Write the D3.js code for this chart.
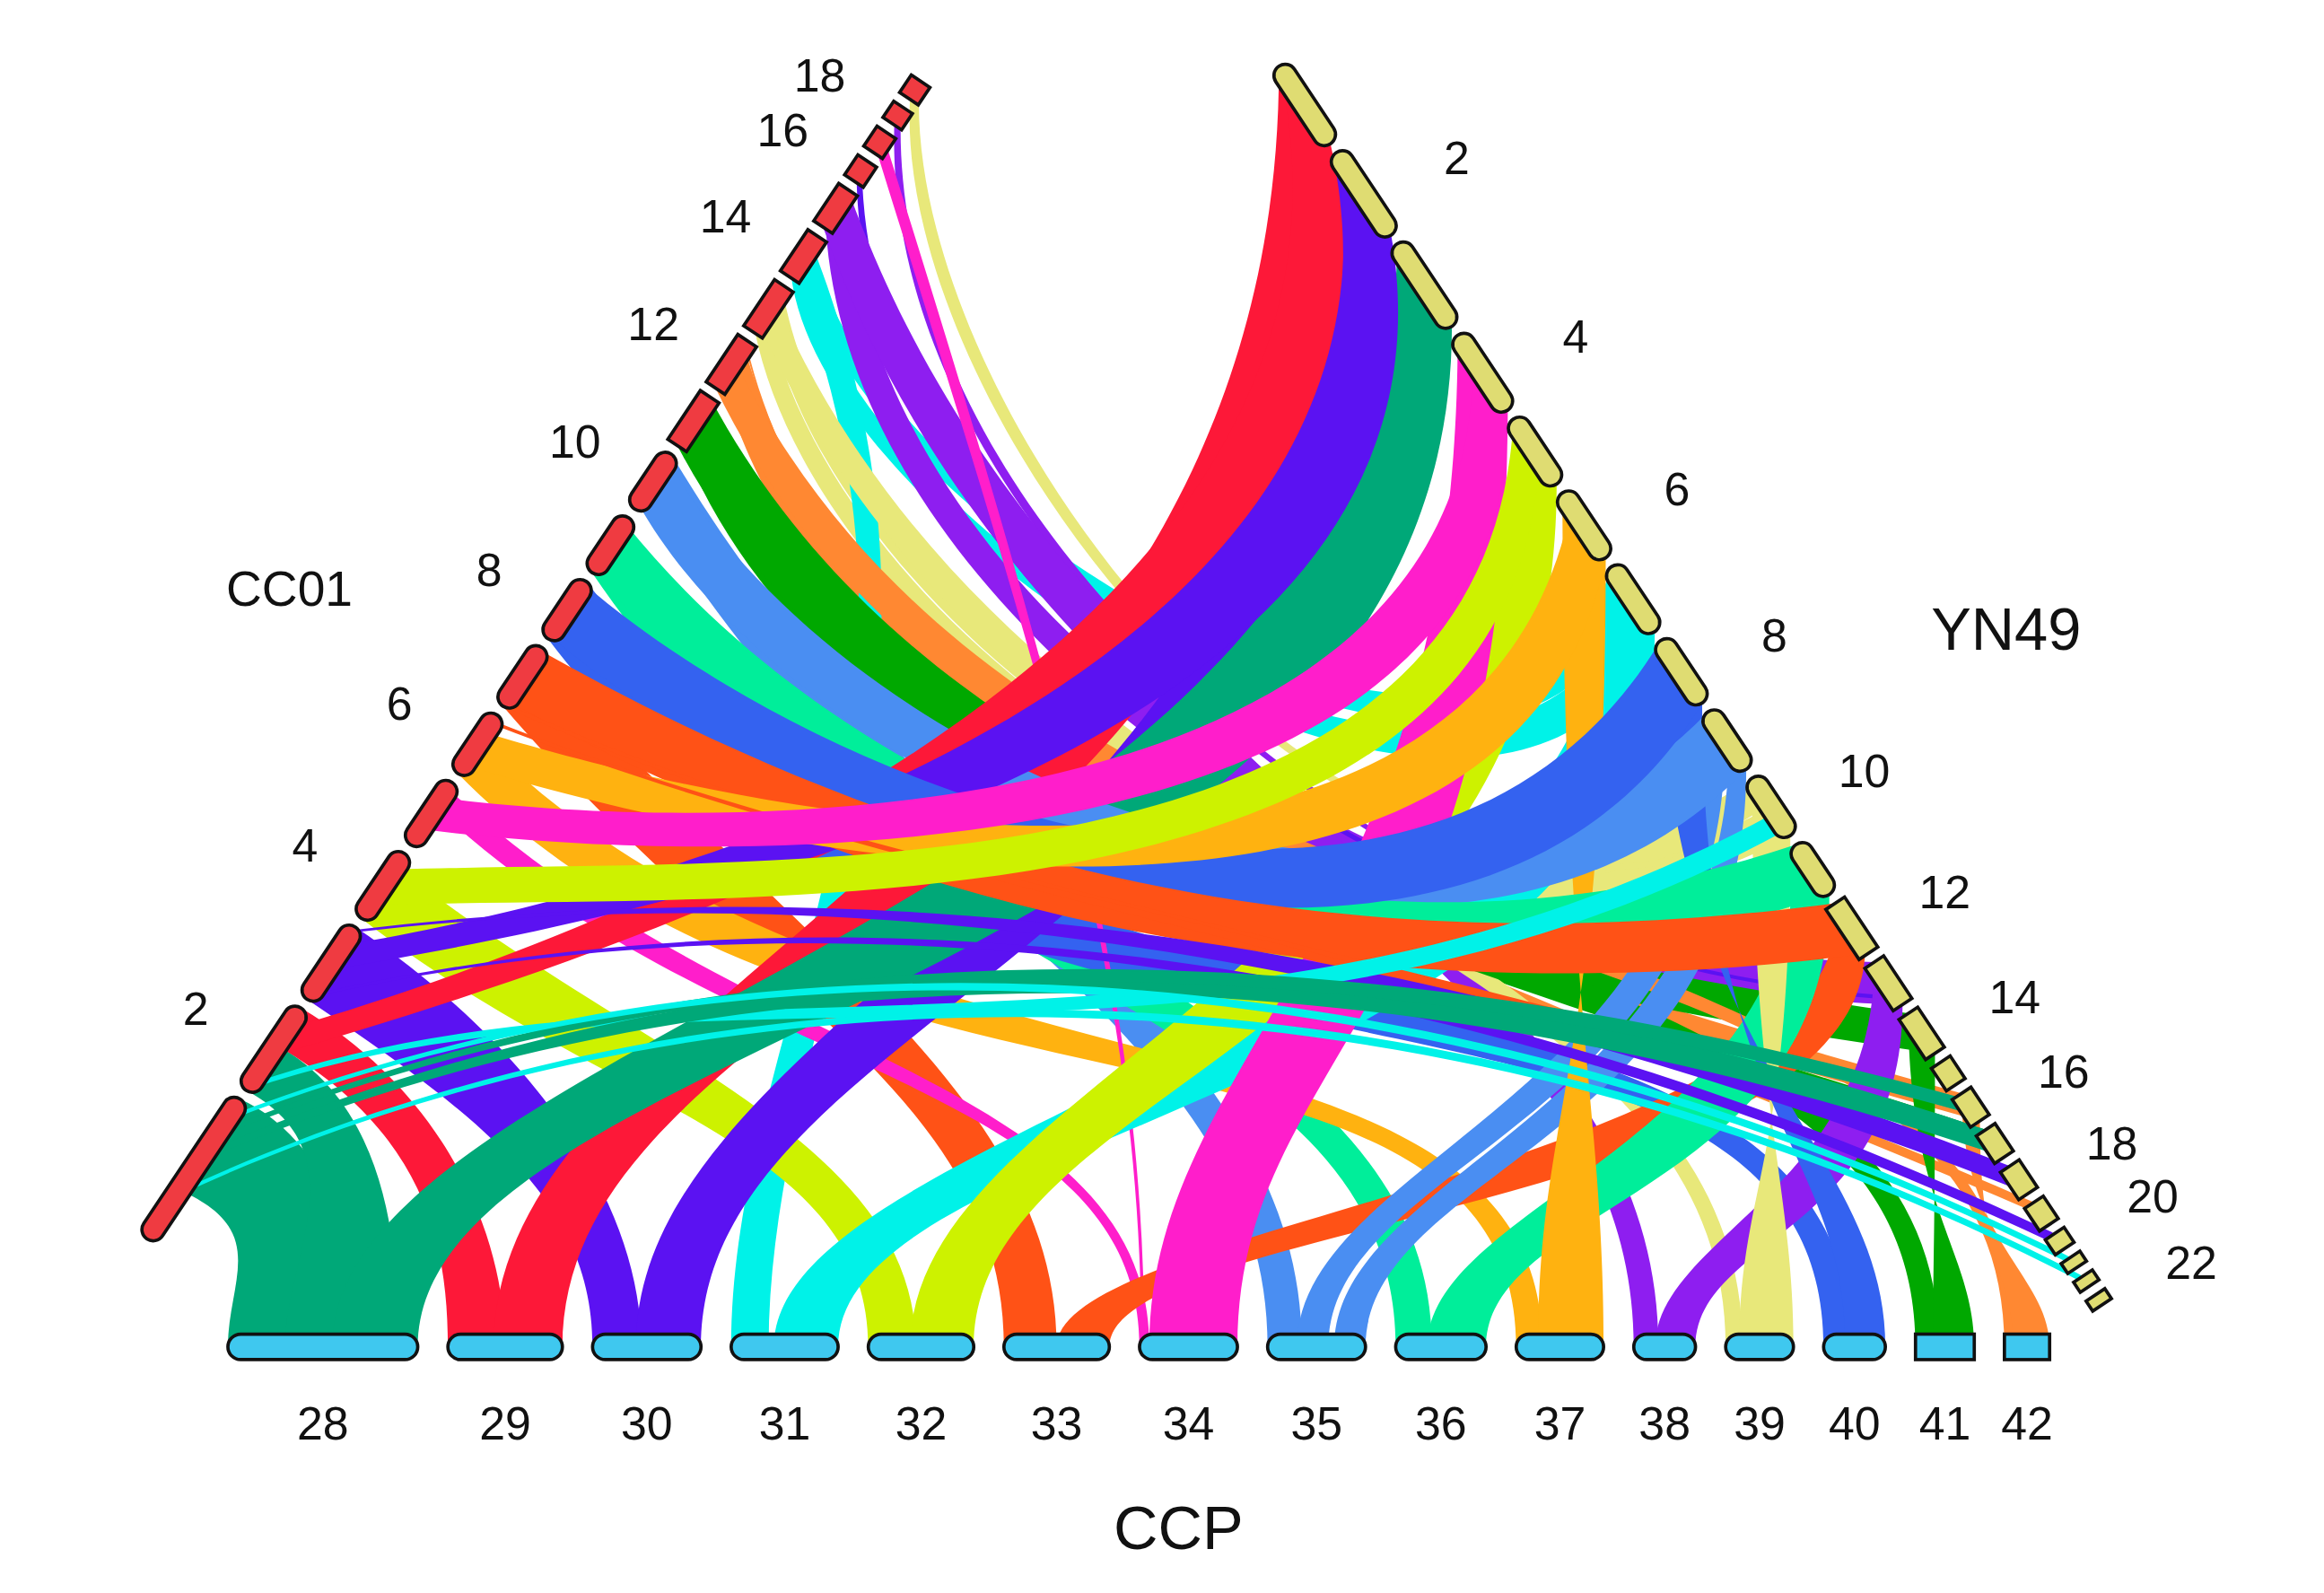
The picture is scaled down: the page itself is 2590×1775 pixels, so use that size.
<!DOCTYPE html>
<html>
<head>
<meta charset="utf-8">
<script src="https://cdn.jsdelivr.net/npm/d3@7"></script>
<style>
  body { margin: 0; background: #fff; }
  svg { display: block; }
  text { font-family: "Liberation Sans", Arial, sans-serif; fill: #111; }
</style>
</head>
<body>
<svg id="chart"></svg>
<script>
var W = 2590, H = 1775;
// drawing frame, scaled to the page by the viewBox
var VW = 1550, VH = 1062;

// relative chromosome lengths
var cc01Sizes = [112, 66, 58, 52, 50, 47, 47, 46, 44, 44, 39, 38, 37, 33, 30, 16, 16, 13, 14];
var yn49Sizes = [62, 66, 66, 60, 52, 52, 52, 50, 46, 46, 40, 40, 34, 32, 18, 22, 22, 22, 18, 12, 8, 8, 8];
var ccpNames = [28, 29, 30, 31, 32, 33, 34, 35, 36, 37, 38, 39, 40, 41, 42];
var ccpSizes = [126, 76, 72, 71, 70, 70, 65, 65, 60, 58, 41, 45, 41, 39, 30];

// one colour per CCP chromosome, links coloured by their CCP block
var ribbonColors = ["#00a878", "#fd1838", "#5b12f2", "#00f2e8", "#cdf200", "#ff5216", "#ff1ecb",
                    "#4a8ef2", "#00ee9a", "#ffb210", "#8e1ef0", "#e8e87a", "#3462f0", "#00a800", "#ff8832"];

var cc01Ticks = [2, 4, 6, 8, 10, 12, 14, 16, 18];
var yn49Ticks = [2, 4, 6, 8, 10, 12, 14, 16, 18, 20, 22];

// [ccpChr, start, end, cc01Chr, start, end, inverted]
var ccpCc01Links = [
  [28, 0.00, 0.78, 1, 0.35, 1.00, 0],
  [28, 0.30, 0.90, 2, 0.00, 0.55, 0],
  [29, 0.00, 0.50, 2, 0.55, 1.00, 0],
  [30, 0.00, 0.45, 3, 0.00, 1.00, 0],
  [31, 0.00, 0.35, 14, 0.10, 0.80, 0],
  [32, 0.00, 0.45, 4, 0.00, 0.80, 0],
  [33, 0.00, 0.50, 7, 0.00, 0.90, 0],
  [34, 0.00, 0.10, 5, 0.60, 0.90, 0],
  [35, 0.00, 0.35, 10, 0.20, 1.00, 0],
  [36, 0.00, 0.40, 9, 0.00, 0.90, 0],
  [37, 0.00, 0.30, 6, 0.00, 0.60, 0],
  [38, 0.00, 0.40, 15, 0.00, 1.00, 0],
  [39, 0.00, 0.25, 13, 0.20, 0.70, 0],
  [40, 0.00, 0.45, 8, 0.00, 1.00, 0],
  [41, 0.00, 0.40, 11, 0.00, 1.00, 0],
  [42, 0.00, 0.25, 12, 0.00, 0.60, 0],
  [34, 0.02, 0.05, 17, 0.20, 0.80, 0]
];

// [ccpChr, start, end, yn49Chr, start, end, inverted]
var ccpYn49Links = [
  [29, 0.40, 1.00, 1, 0.00, 1.00, 0],
  [30, 0.40, 1.00, 2, 0.00, 1.00, 0],
  [28, 0.55, 1.00, 3, 0.00, 1.00, 0],
  [31, 0.40, 1.00, 7, 0.00, 1.00, 0],
  [32, 0.40, 1.00, 5, 0.00, 1.00, 0],
  [33, 0.50, 1.00, 12, 0.10, 0.90, 0],
  [34, 0.10, 1.00, 4, 0.00, 1.00, 0],
  [35, 0.30, 0.62, 9, 0.00, 0.45, 0],
  [35, 0.68, 1.00, 9, 0.55, 1.00, 0],
  [36, 0.35, 1.00, 11, 0.00, 1.00, 0],
  [37, 0.25, 1.00, 6, 0.00, 1.00, 1],
  [38, 0.35, 1.00, 13, 0.00, 1.00, 0],
  [39, 0.20, 1.00, 10, 0.00, 1.00, 1],
  [40, 0.35, 1.00, 8, 0.00, 1.00, 1],
  [41, 0.30, 1.00, 14, 0.00, 1.00, 1],
  [42, 0.20, 1.00, 16, 0.00, 1.00, 1]
];

// [cc01Chr, start, end, yn49Chr, start, end, inverted, colourBlock]
var cc01Yn49Links = [
  // long strands from the top of CC01
  [13, 0.05, 0.45, 10, 0.50, 1.00, 0, 39],
  [13, 0.50, 0.95, 10, 0.00, 0.45, 0, 39],
  [14, 0.05, 0.45, 7, 0.50, 1.00, 0, 31],
  [14, 0.50, 0.90, 7, 0.00, 0.45, 0, 31],
  [15, 0.10, 0.90, 13, 0.00, 1.00, 0, 38],
  [16, 0.20, 0.60, 13, 0.80, 0.90, 0, 30],
  [18, 0.20, 0.80, 14, 0.80, 0.90, 0, 38],
  [19, 0.10, 0.90, 10, 0.70, 0.80, 0, 39],
  [12, 0.20, 0.90, 16, 0.00, 1.00, 0, 42],
  [12, 0.92, 0.96, 19, 0.00, 0.60, 0, 42],
  [11, 0.10, 0.90, 14, 0.00, 1.00, 0, 41],
  [11, 0.92, 0.97, 17, 0.00, 0.50, 0, 41],
  // bands from the middle and base of CC01
  [10, 0.10, 0.90, 9, 0.00, 1.00, 0, 35],
  [9, 0.05, 0.90, 11, 0.00, 1.00, 0, 36],
  [2, 0.40, 0.75, 1, 0.00, 1.00, 0, 29],
  [3, 0.40, 0.75, 2, 0.00, 1.00, 0, 30],
  [8, 0.05, 0.95, 8, 0.00, 1.00, 0, 40],
  [7, 0.10, 0.95, 12, 0.00, 1.00, 0, 33],
  [7, 0.00, 0.05, 17, 0.30, 0.70, 0, 33],
  [6, 0.15, 0.70, 6, 0.20, 1.00, 0, 37],
  [6, 0.85, 0.90, 18, 0.10, 0.60, 0, 33],
  [5, 0.25, 0.75, 4, 0.30, 1.00, 0, 34],
  [4, 0.20, 0.75, 5, 0.00, 0.60, 0, 32],
  [3, 0.92, 0.96, 18, 0.00, 1.00, 0, 30],
  [3, 0.02, 0.06, 20, 0.00, 1.00, 0, 30],
  [2, 0.00, 0.08, 10, 0.60, 0.90, 0, 31],
  [1, 0.55, 0.62, 17, 0.00, 1.00, 0, 28],
  [1, 0.72, 0.77, 16, 0.20, 0.80, 0, 28],
  [1, 0.84, 0.88, 21, 0.00, 1.00, 0, 31],
  [1, 0.30, 0.34, 22, 0.00, 1.00, 0, 31]
];

var svg = d3.select("#chart")
  .attr("width", W)
  .attr("height", H)
  .attr("viewBox", "0 0 " + VW + " " + VH);

// a genome laid out along a straight axis from S to E
function layout(sizes, gap, S, E) {
  var total = d3.sum(sizes) + gap * (sizes.length - 1);
  var len = Math.hypot(E[0] - S[0], E[1] - S[1]);
  var u = [(E[0] - S[0]) / len, (E[1] - S[1]) / len];
  var sc = d3.scaleLinear().domain([0, total]).range([0, len]);
  var offs = [], acc = 0;
  sizes.forEach(function(s) { offs.push(acc); acc += s + gap; });
  return {
    sizes: sizes,
    angle: Math.atan2(u[1], u[0]) * 180 / Math.PI,
    length: function(i) { return sc(sizes[i]) - sc(0); },
    pos: function(i, f) {
      var d = sc(offs[i] + f * sizes[i]);
      return [S[0] + u[0] * d, S[1] + u[1] * d];
    }
  };
}

var cc01 = layout(cc01Sizes, 7, [98, 826], [614, 54]);
var yn49 = layout(yn49Sizes, 7, [853, 44], [1402, 870]);
var ccp = layout(ccpSizes, 20, [152, 898], [1367, 898]);

var colorOf = d3.scaleOrdinal().domain(ccpNames).range(ribbonColors);

function unit(v) { var l = Math.hypot(v[0], v[1]); return [v[0] / l, v[1] / l]; }
function toward(f) { return function(p) { return unit([f[0] - p[0], f[1] - p[1]]); }; }
function up() { return [0, -1]; }
function down() { return [0, 1]; }

var gLinks = svg.append("g").attr("id", "links");

// ribbon between two chromosome intervals; useDy: control lengths from the vertical gap
function ribbon(A, ia, a0, a1, dirA, kA, B, ib, b0, b1, dirB, kB, color, useDy) {
  var pa0 = A.pos(ia, a0), pa1 = A.pos(ia, a1);
  var pb0 = B.pos(ib, b0), pb1 = B.pos(ib, b1);
  var ca = A.pos(ia, (a0 + a1) / 2), cb = B.pos(ib, (b0 + b1) / 2);
  var dist = useDy ? Math.abs(ca[1] - cb[1]) : Math.hypot(ca[0] - cb[0], ca[1] - cb[1]);
  var da = dirA(ca), db = dirB(cb);
  var la = kA * dist, lb = kB * dist;
  var p = d3.path();
  p.moveTo(pa0[0], pa0[1]);
  p.bezierCurveTo(pa0[0] + da[0] * la, pa0[1] + da[1] * la,
                  pb0[0] + db[0] * lb, pb0[1] + db[1] * lb, pb0[0], pb0[1]);
  p.lineTo(pb1[0], pb1[1]);
  p.bezierCurveTo(pb1[0] + db[0] * lb, pb1[1] + db[1] * lb,
                  pa1[0] + da[0] * la, pa1[1] + da[1] * la, pa1[0], pa1[1]);
  p.closePath();
  gLinks.append("path").attr("d", p.toString()).attr("fill", color);
}

function drawCc01Yn49(d) {
  var b0 = d[6] ? d[4] : d[5], b1 = d[6] ? d[5] : d[4];
  ribbon(cc01, d[0] - 1, d[1], d[2], toward([580, 580]), 0.3,
         yn49, d[3] - 1, b0, b1, toward([1000, 650]), 0.4, colorOf(d[7]), false);
}

// strands from the upper CC01 chromosomes sit underneath
cc01Yn49Links.filter(function(d) { return d[0] >= 11; }).forEach(drawCc01Yn49);

ccpCc01Links.forEach(function(d) {
  var b0 = d[6] ? d[5] : d[4], b1 = d[6] ? d[4] : d[5];
  ribbon(ccp, d[0] - 28, d[1], d[2], up, 0.3,
         cc01, d[3] - 1, b0, b1, toward([900, 1100]), 0.45, colorOf(d[0]), false);
});

ccpYn49Links.forEach(function(d) {
  var b0 = d[6] ? d[5] : d[4], b1 = d[6] ? d[4] : d[5];
  ribbon(ccp, d[0] - 28, d[1], d[2], up, 0.3,
         yn49, d[3] - 1, b0, b1, down, 0.62, colorOf(d[0]), true);
});

cc01Yn49Links.filter(function(d) { return d[0] < 11; }).forEach(drawCc01Yn49);

// chromosome bars
function drawBars(G, id, fill, thick, squareFrom) {
  var g = svg.append("g").attr("id", id);
  G.sizes.forEach(function(s, i) {
    var c = G.pos(i, 0.5), L = G.length(i);
    g.append("rect")
      .attr("x", -L / 2).attr("y", -thick / 2)
      .attr("width", L).attr("height", thick)
      .attr("rx", i >= squareFrom ? 0 : Math.min(L, thick) / 2)
      .attr("fill", fill)
      .attr("stroke", "#111").attr("stroke-width", 2.2)
      .attr("transform", "translate(" + c[0] + "," + c[1] + ") rotate(" + G.angle + ")");
  });
}
drawBars(cc01, "cc01-bars", "#ef3b41", 15, 10);
drawBars(yn49, "yn49-bars", "#dfdc72", 15, 11);
drawBars(ccp, "ccp-bars", "#3fc8ef", 17, 13);

// chromosome labels
var gText = svg.append("g").attr("id", "labels");
cc01Ticks.forEach(function(n) {
  var c = cc01.pos(n - 1, 0.5);
  gText.append("text").attr("x", c[0] - 52).attr("y", c[1] - 27)
    .attr("text-anchor", "middle").attr("dominant-baseline", "central")
    .attr("font-size", 31).text(n);
});
yn49Ticks.forEach(function(n) {
  var c = yn49.pos(n - 1, 0.5);
  var dx = n === 22 ? 70 : 62, dy = n === 20 ? -30 : (n === 22 ? -12 : -24);
  gText.append("text").attr("x", c[0] + dx).attr("y", c[1] + dy)
    .attr("text-anchor", "middle").attr("dominant-baseline", "central")
    .attr("font-size", 31).text(n);
});
ccpNames.forEach(function(n, i) {
  var c = ccp.pos(i, 0.5);
  gText.append("text").attr("x", c[0]).attr("y", 960)
    .attr("text-anchor", "middle").attr("font-size", 31).text(n);
});

gText.append("text").attr("x", 193).attr("y", 404).attr("text-anchor", "middle")
  .attr("font-size", 33).text("CC01");
gText.append("text").attr("x", 1338).attr("y", 433).attr("text-anchor", "middle")
  .attr("font-size", 40).text("YN49");
gText.append("text").attr("x", 786).attr("y", 1033).attr("text-anchor", "middle")
  .attr("font-size", 41).text("CCP");
</script>
</body>
</html>
